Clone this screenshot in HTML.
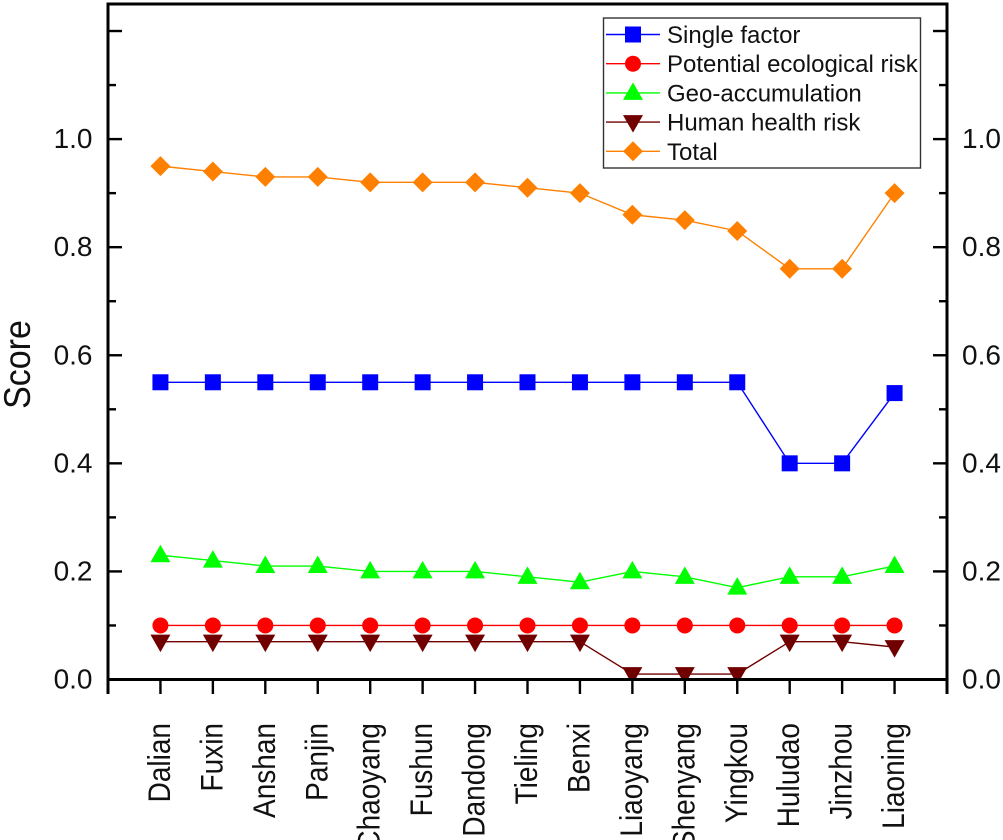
<!DOCTYPE html>
<html>
<head>
<meta charset="utf-8">
<style>
html,body{margin:0;padding:0;background:#fff;width:1003px;height:840px;overflow:hidden}
svg{display:block;font-family:"Liberation Sans",Arial,sans-serif;filter:blur(0.35px)}
</style>
</head>
<body>
<svg id="chart" xmlns="http://www.w3.org/2000/svg" width="1003" height="840" viewBox="0 0 1003 840"></svg>
<script>
const categories = ["Dalian","Fuxin","Anshan","Panjin","Chaoyang","Fushun","Dandong","Tieling","Benxi","Liaoyang","Shenyang","Yingkou","Huludao","Jinzhou","Liaoning"];
const singleFactor = [0.55,0.55,0.55,0.55,0.55,0.55,0.55,0.55,0.55,0.55,0.55,0.55,0.40,0.40,0.53];
const potentialRisk = [0.10,0.10,0.10,0.10,0.10,0.10,0.10,0.10,0.10,0.10,0.10,0.10,0.10,0.10,0.10];
const geoAccumulation = [0.23,0.22,0.21,0.21,0.20,0.20,0.20,0.19,0.18,0.20,0.19,0.17,0.19,0.19,0.21];
const humanHealth = [0.07,0.07,0.07,0.07,0.07,0.07,0.07,0.07,0.07,0.01,0.01,0.01,0.07,0.07,0.06];
const totalScore = [0.95,0.94,0.93,0.93,0.92,0.92,0.92,0.91,0.90,0.86,0.85,0.83,0.76,0.76,0.90];
const majorTicks = [0,0.2,0.4,0.6,0.8,1.0,1.2];
const minorTicks = [0.1,0.3,0.5,0.7,0.9,1.1];
const tickLabels = ["0.0","0.2","0.4","0.6","0.8","1.0"];
const seriesNames = ["Single factor","Potential ecological risk","Geo-accumulation","Human health risk","Total"];

const NS = "http://www.w3.org/2000/svg";
const svg = document.getElementById("chart");
const L = 108, R = 947, T = 4, B = 679.5;
const xPos = i => L + (i + 1) * (R - L) / (categories.length + 1);
const yPos = v => B - v * (B - T) / 1.25;

function make(tag, attrs, parent) {
  const el = document.createElementNS(NS, tag);
  for (const k in attrs) el.setAttribute(k, attrs[k]);
  (parent || svg).appendChild(el);
  return el;
}
function marker(kind, x, y, color, parent) {
  if (kind === "square") return make("rect", {x: x - 8, y: y - 8, width: 16, height: 16, fill: color}, parent);
  if (kind === "circle") return make("circle", {cx: x, cy: y, r: 8, fill: color}, parent);
  let pts;
  if (kind === "up") pts = [[x - 10, y + 7], [x + 10, y + 7], [x, y - 10.5]];
  else if (kind === "down") pts = [[x - 10, y - 7], [x + 10, y - 7], [x, y + 10.5]];
  else pts = [[x - 10, y], [x, y - 10], [x + 10, y], [x, y + 10]];
  return make("polygon", {points: pts.map(p => p.join(",")).join(" "), fill: color}, parent);
}

/* series (drawn first so the axis covers clipped markers) */
const seriesValues = [singleFactor, potentialRisk, geoAccumulation, humanHealth, totalScore];
const seriesColors = ["#0000ff","#ff0000","#00ff00","#700000","#ff8000"];
const seriesKinds = ["square","circle","up","down","diamond"];
const seriesKeys = ["single-factor","potential-ecological-risk","geo-accumulation","human-health-risk","total"];
seriesValues.forEach((vals, s) => {
  const g = make("g", {});
  
  
  make("polyline", {points: vals.map((v, i) => xPos(i) + "," + yPos(v)).join(" "), fill: "none", stroke: seriesColors[s], "stroke-width": 1.4}, g);
  vals.forEach((v, i) => {
    const m = marker(seriesKinds[s], xPos(i), yPos(v), seriesColors[s], g);
    
    
  });
});

/* white mask below the axis for clipped markers */
const mask = make("rect", {x: L - 1, y: B, width: R - L + 2, height: 16, fill: "#fff"});



/* axes frame */
const frame = make("g", {stroke: "#000", "stroke-width": 3, fill: "none"});


make("path", {d: `M${L} ${B + 14.5}V${T}H${R}V${B + 14.5}M${L} ${B}H${R}`, "stroke-linecap": "butt"}, frame);

/* ticks */
const ticks = make("g", {stroke: "#000", "stroke-width": 2.4});


majorTicks.forEach(v => {
  const y = yPos(v);
  make("line", {x1: L, x2: L + 14, y1: y, y2: y}, ticks);
  make("line", {x1: R, x2: R - 14, y1: y, y2: y}, ticks);
});
minorTicks.forEach(v => {
  const y = yPos(v);
  make("line", {x1: L, x2: L + 8, y1: y, y2: y}, ticks);
  make("line", {x1: R, x2: R - 8, y1: y, y2: y}, ticks);
});
categories.forEach((c, i) => {
  make("line", {x1: xPos(i), x2: xPos(i), y1: B, y2: B + 14.5}, ticks);
});

/* tick labels */
tickLabels.forEach((t, i) => {
  const v = parseFloat(t);
  const a = make("text", {x: 92.5, y: yPos(v) + 9, "text-anchor": "end", "font-size": 28, fill: "#111"});
  a.textContent = t;
  
  
  const b = make("text", {x: 962, y: yPos(v) + 9, "text-anchor": "start", "font-size": 28, fill: "#111"});
  b.textContent = t;
  
  
});
categories.forEach((c, i) => {
  const x = xPos(i) + 9.5, y = 723;
  const t = make("text", {x: 0, y: 0, "text-anchor": "end", "font-size": 28, fill: "#111", transform: `translate(${x} ${y}) rotate(-90) scale(1 1.12)`});
  t.textContent = c;
  
  
});

/* axis title */
const title = make("text", {x: 0, y: 0, "text-anchor": "middle", "font-size": 34, fill: "#111", transform: "translate(30 364.5) rotate(-90) scale(1 1.08)"});
title.textContent = "Score";



/* legend */
const lg = make("g", {});


make("rect", {x: 603.5, y: 18, width: 317, height: 150, fill: "#fff", stroke: "#333", "stroke-width": 1.4}, lg);
seriesNames.forEach((n, s) => {
  const y = 34.5 + s * 29.2;
  const e = make("g", {}, lg);
  
  
  make("line", {x1: 606, x2: 660, y1: y, y2: y, stroke: seriesColors[s], "stroke-width": 1.4}, e);
  marker(seriesKinds[s], 633, y, seriesColors[s], e);
  const t = make("text", {x: 667, y: y + 8.5, "font-size": 24, fill: "#111"}, e);
  t.textContent = n;
});
</script>
</body>
</html>
